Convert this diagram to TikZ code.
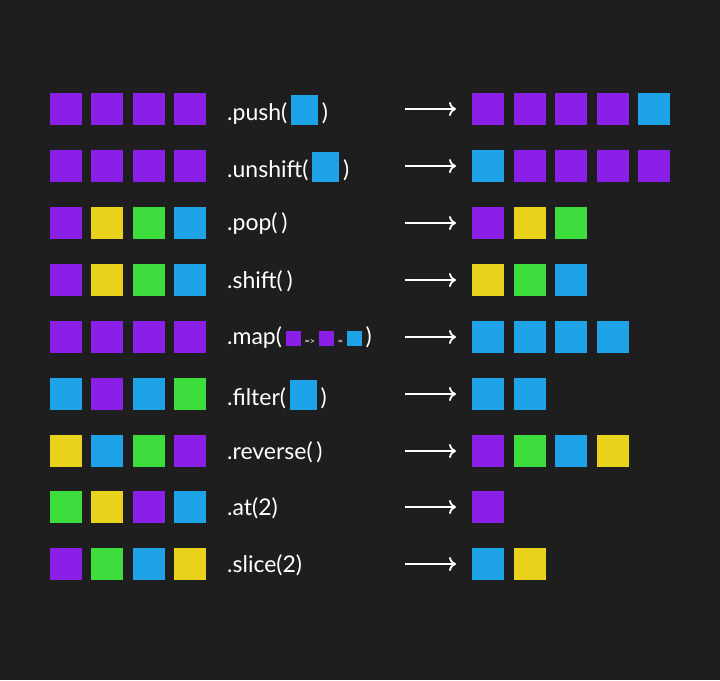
\documentclass[tikz,border=0pt]{standalone}
\usepackage{fontspec}
\usetikzlibrary{arrows.meta}
\setmainfont{Lato}
\definecolor{bg}{HTML}{1E1E1E}
\definecolor{P}{HTML}{8A1FE8}
\definecolor{Y}{HTML}{E8D21C}
\definecolor{G}{HTML}{3EDD3E}
\definecolor{B}{HTML}{1EA2E8}
\newcommand{\bsq}{\raisebox{-5pt}{\textcolor{B}{\rule{27pt}{30pt}}}}
\newcommand{\ssq}[1]{\raisebox{-1pt}{\textcolor{#1}{\rule{15pt}{15pt}}}}
\begin{document}
\begin{tikzpicture}[x=1pt,y=-1pt,
  sq/.style={minimum size=32pt,inner sep=0pt,fill=#1},
  lab/.style={anchor=west,text=white,font=\fontsize{23}{23}\selectfont,inner sep=0pt},
  arr/.style={draw=white,line width=1.8pt,-{To[length=7pt,width=14pt]}}]
\fill[bg] (0,0) rectangle (720,680);
\useasboundingbox (0,0) rectangle (720,680);
\foreach \r/\y/\L/\R/\t in {
 1/109/{P,P,P,P}/{P,P,P,P,B}/{.push(\,\bsq\,)},
 2/166/{P,P,P,P}/{B,P,P,P,P}/{.unshift(\,\bsq\,)},
 3/223/{P,Y,G,B}/{P,Y,G}/{.pop(\,)},
 4/280/{P,Y,G,B}/{Y,G,B}/{.shift(\,)},
 5/337/{P,P,P,P}/{B,B,B,B}/{.map(\,\ssq{P}\,{\fontsize{9}{9}\selectfont=>}\,\ssq{P}\,{\fontsize{9}{9}\selectfont=}\,\ssq{B}\,)},
 6/394/{B,P,B,G}/{B,B}/{.filter(\,\bsq\,)},
 7/451/{Y,B,G,P}/{P,G,B,Y}/{.reverse(\,)},
 8/507/{G,Y,P,B}/{P}/{.at(2)},
 9/564/{P,G,B,Y}/{B,Y}/{.slice(2)}} {
  \foreach \c [count=\i] in \L
    \node[sq=\c] (l\r-\i) at (66+41.3*\i-41.3,\y) {};
  \foreach \c [count=\i] in \R
    \node[sq=\c] (r\r-\i) at (488+41.5*\i-41.5,\y) {};
  \node[lab] (t\r) at (227,\y+1) {\t};
  \coordinate (a\r) at (405,\y);
  \coordinate (b\r) at (456,\y);
  \draw[arr] (a\r) -- (b\r);
}
\end{tikzpicture}
\end{document}
